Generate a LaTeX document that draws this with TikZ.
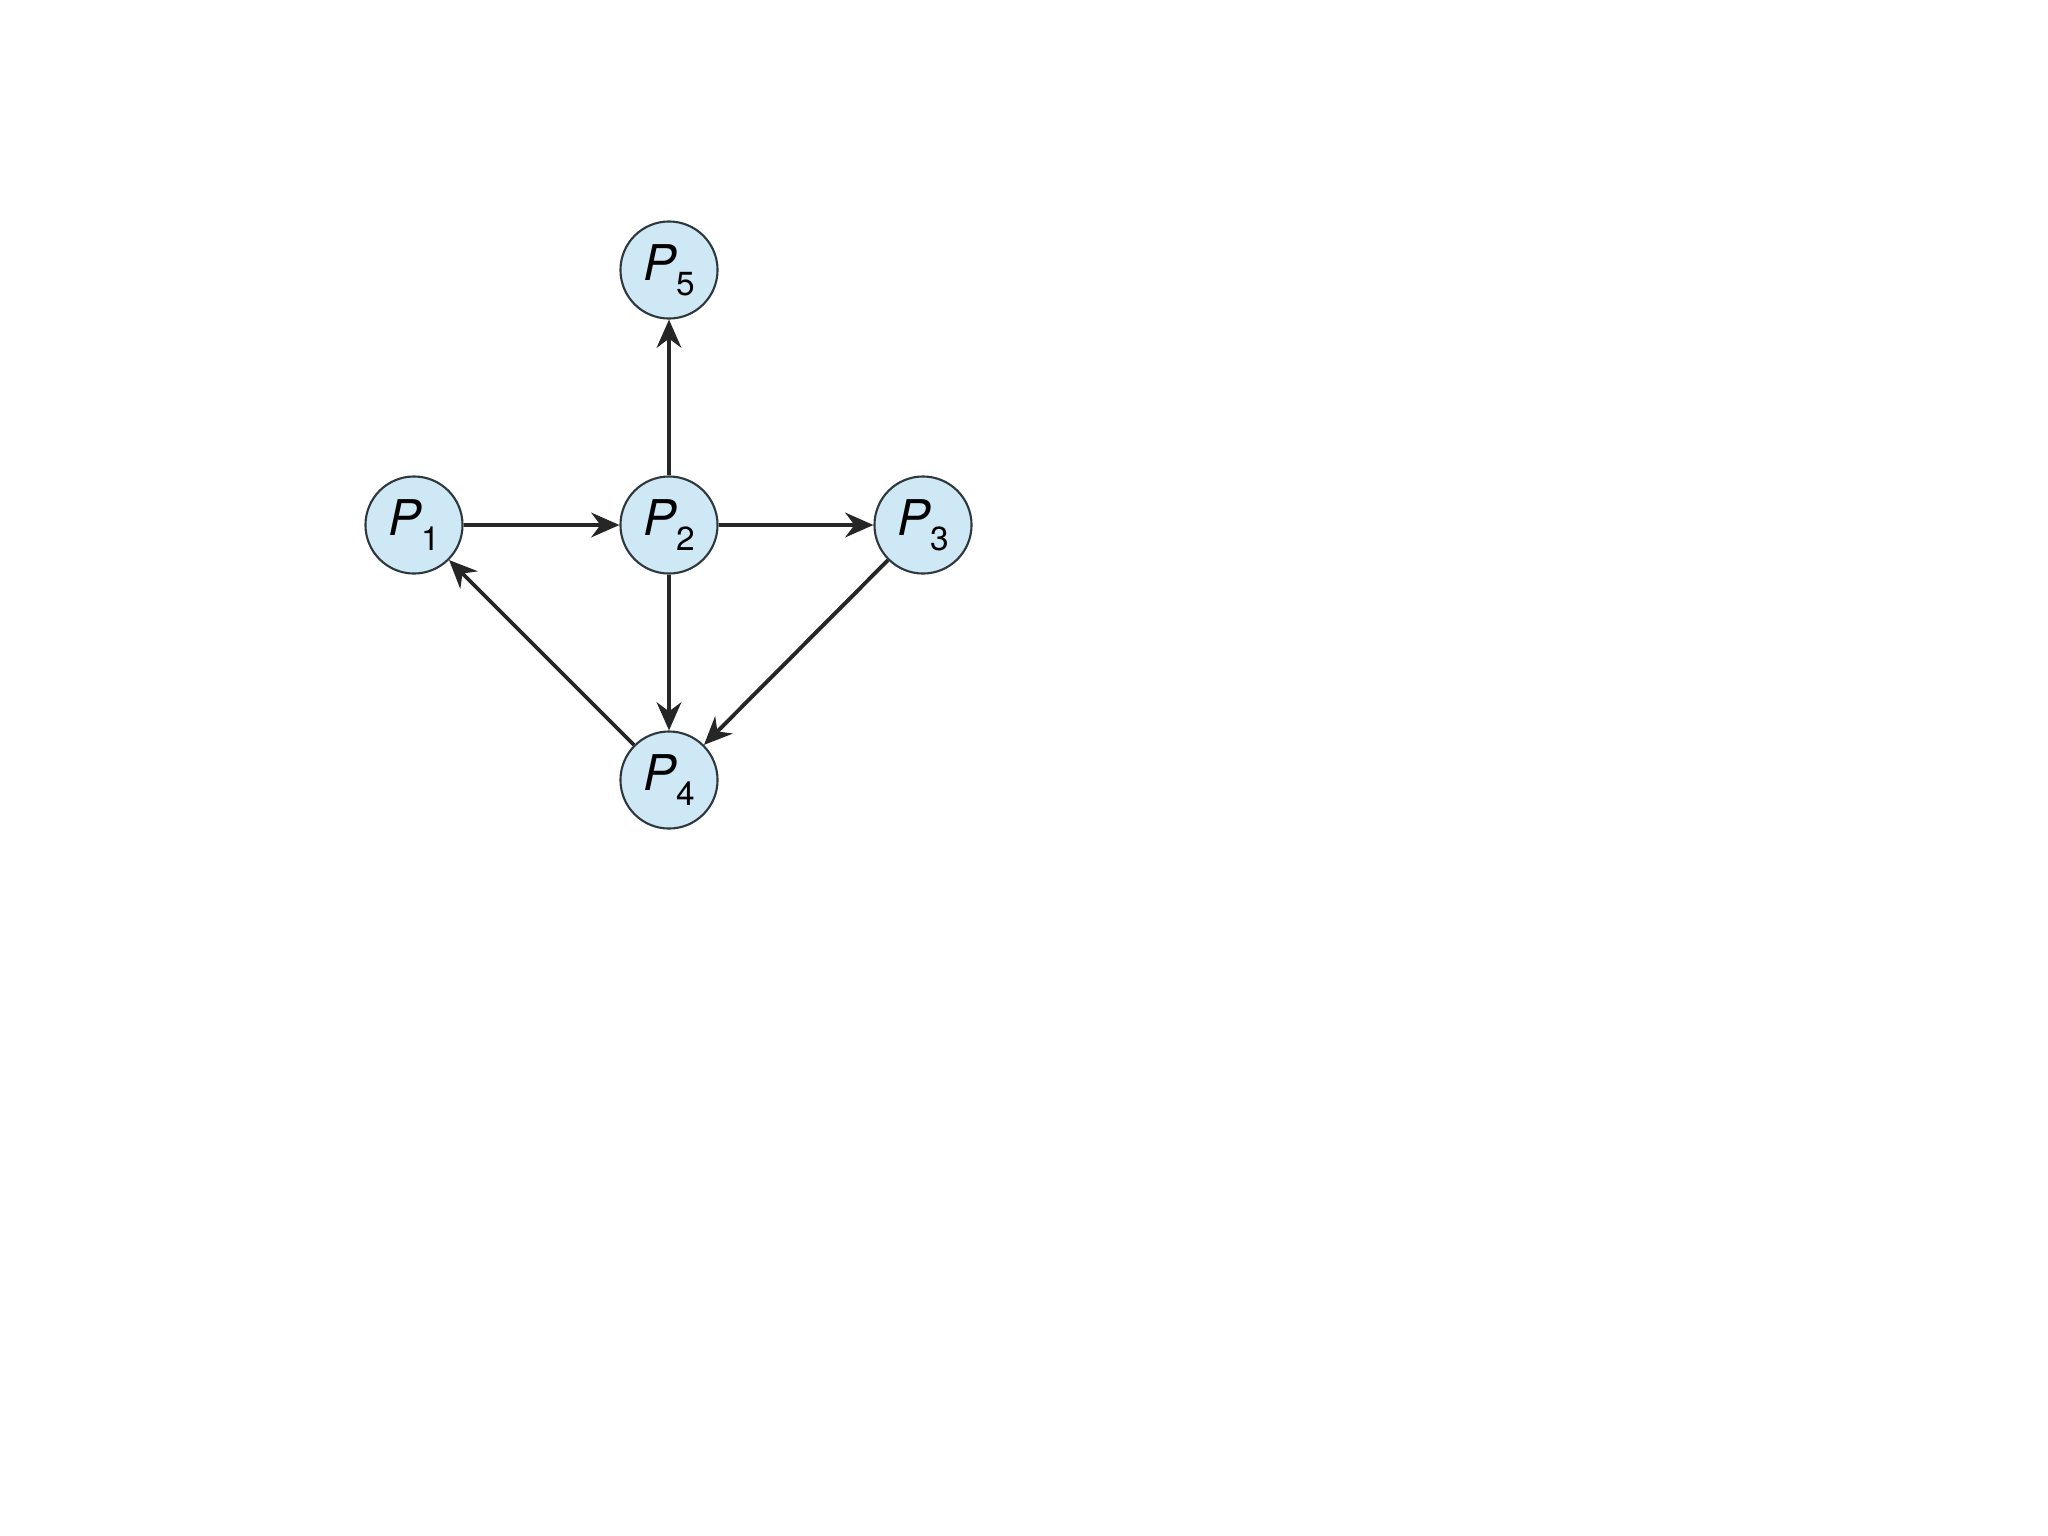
\documentclass[tikz,border=0pt]{standalone}
\usepackage{fontspec}
\setmainfont{TeX Gyre Heros}
\usetikzlibrary{arrows.meta}
\definecolor{procfill}{RGB}{206,232,246}
\definecolor{procline}{RGB}{45,55,60}
\newcommand{\proc}[1]{\textit{P}\kern-0.02em\raisebox{-0.3em}{\fontsize{9.5}{10}\selectfont #1}}
\tikzset{
  proc/.style={circle, draw=procline, line width=0.6pt, fill=procfill,
    minimum size=0.97cm, inner sep=0pt, font=\fontsize{14}{14}\selectfont},
  link/.style={-{Stealth[length=8pt,width=7pt]}, line width=1.1pt, draw=black!85}
}
\begin{document}
\begin{tikzpicture}[x=0.01cm,y=-0.01cm]
      \useasboundingbox (0,0) rectangle (2048,1536);
      \draw
        (669,270) node[proc] (5){\proc{5}}
        (414,525) node[proc] (1){\proc{1}}
        (669,525) node[proc] (2){\proc{2}}
        (923,525) node[proc] (3){\proc{3}}
        (669,780) node[proc] (4){\proc{4}};
      \begin{scope}[link]
        \draw (1) to (2);
        \draw (2) to (3);
        \draw (2) to (5);
        \draw (2) to (4);
        \draw (3) to (4);
        \draw (4) to (1);
      \end{scope}
    \end{tikzpicture}
\end{document}
